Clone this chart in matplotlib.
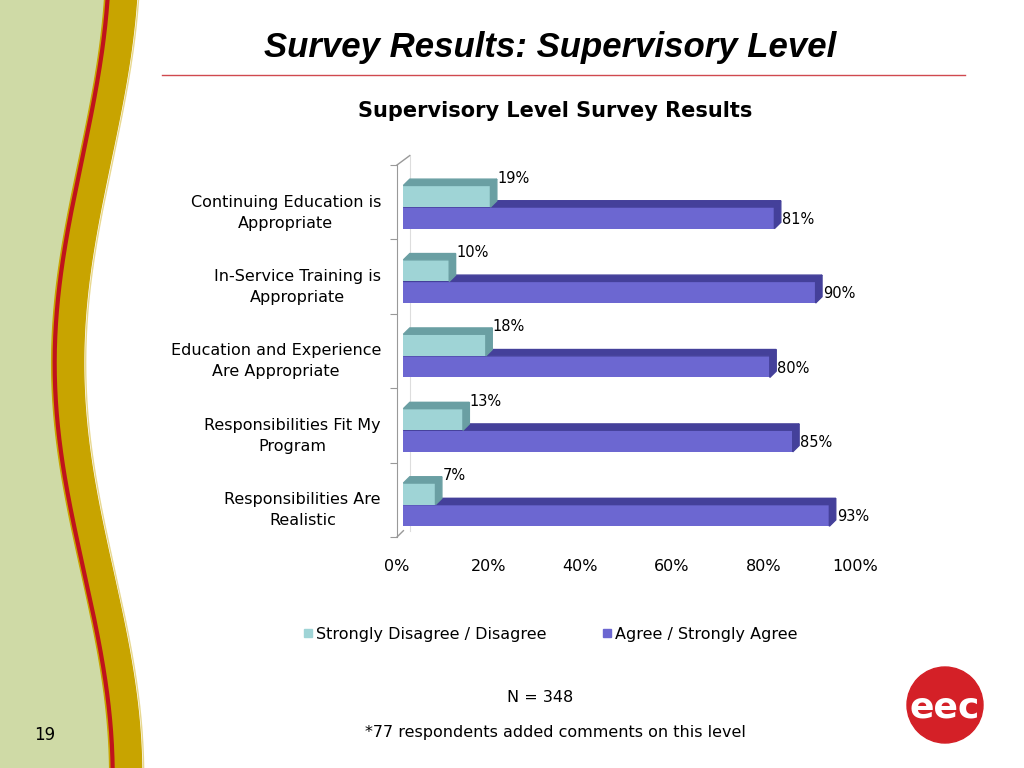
import numpy as np
import matplotlib
matplotlib.use("Agg")
import matplotlib.pyplot as plt
from matplotlib.patches import Polygon

categories = ["Continuing Education is\nAppropriate", "In-Service Training is\nAppropriate",
              "Education and Experience\nAre Appropriate", "Responsibilities Fit My\nProgram",
              "Responsibilities Are\nRealistic"]
disagree = [19, 10, 18, 13, 7]
agree = [81, 90, 80, 85, 93]
xticks = [0, 20, 40, 60, 80, 100]
series_names = ["Strongly Disagree / Disagree", "Agree / Strongly Agree"]

W, H = 1024, 768
fig = plt.figure(figsize=(W/100, H/100), dpi=100)
fig.patch.set_facecolor("white")

deco = fig.add_axes([0, 0, 1, 1])
deco.set_xlim(0, W); deco.set_ylim(H, 0); deco.axis("off")
yy = np.linspace(0, H, 300)
xw = 80 + 25*np.cos(yy/H*2*np.pi*0.95 + 0.2) - 5*np.sin(yy/H*5)
deco.fill_betweenx(yy, 0, xw, color="#cfdaa6")
deco.fill_betweenx(yy, xw, xw+32, color="#c8a400")
deco.plot(xw+3, yy, color="#c0121c", lw=3)
deco.plot(xw+34, yy, color="#e8d890", lw=1)
deco.plot([162, 965], [75, 75], color="#d0494f", lw=1)
deco.text(550, 48, "Survey Results: Supervisory Level", fontsize=25, fontweight="bold",
          fontstyle="italic", family="Liberation Sans", ha="center", va="center")
deco.text(555, 111, "Supervisory Level Survey Results", fontsize=15, fontweight="bold",
          ha="center", va="center", family="DejaVu Sans")
deco.text(540, 698, "N = 348", fontsize=11.5, ha="center", va="center")
deco.text(555, 733, "*77 respondents added comments on this level", fontsize=11.5, ha="center", va="center")
deco.text(45, 735, "19", fontsize=12, ha="center", va="center")
deco.add_patch(plt.Circle((945, 705), 38, color="#d42027"))
deco.text(945, 708, "eec", fontsize=26, fontweight="bold", color="white", ha="center", va="center")

ax = fig.add_axes([397/W, 1-537/H, 458/W, 372/H])
ax.set_xlim(0, 100); ax.set_ylim(-0.5, 4.5)
n = len(categories)
pos = np.arange(n)[::-1]
h = 0.29
dx, dy = 1.4, 0.085
x0 = dx
cols = [("#9fd4d6", "#6a9fa3"), ("#6c67d1", "#44409a")]
for vals, off, (fc, dc), z in [(agree, -0.21, cols[1], 3), (disagree, 0.08, cols[0], 4)]:
    for p, v in zip(pos, vals):
        yc = p + off
        ax.barh(yc, v, left=x0, height=h, color=fc, zorder=z)
        top = yc + h/2; bot = yc - h/2
        xe = x0 + v
        ax.add_patch(Polygon([(x0, top), (x0+dx, top+dy), (xe+dx, top+dy), (xe, top)],
                             closed=True, color=dc, zorder=z, clip_on=False))
        ax.add_patch(Polygon([(xe, top), (xe+dx, top+dy), (xe+dx, bot+dy), (xe, bot)],
                             closed=True, color=dc, zorder=z, clip_on=False))
for p, v in zip(pos, disagree):
    ax.text(x0+v+1.5, p+0.08+h/2+0.1, f"{v}%", fontsize=10.5, va="center", ha="left")
for p, v in zip(pos, agree):
    ax.text(x0+v+1.6, p-0.21-0.02, f"{v}%", fontsize=10.5, va="center", ha="left")

for s in ["top", "right", "bottom"]:
    ax.spines[s].set_visible(False)
ax.spines["left"].set_color("#999999")
ax.set_xticks(xticks)
ax.set_xticklabels([f"{t}%" for t in xticks], fontsize=11.5)
ax.tick_params(axis="x", length=0, pad=16)
ax.set_yticks(np.arange(-0.5, 4.6, 1.0))
ax.set_yticklabels([])
ax.tick_params(axis="y", length=5, color="#999999")
ax.plot([0, dx*2], [4.5, 4.5+dy*1.5], color="#999999", lw=1, clip_on=False)
ax.plot([0, dx], [-0.5, -0.5+dy], color="#999999", lw=1, clip_on=False)
ax.plot([dx*2, dx*2], [-0.5+dy, 4.5+dy*1.5], color="#dddddd", lw=0.8, clip_on=False)
for p, c in zip(pos, categories):
    ax.text(-3.5, p-0.14, c, fontsize=11.5, ha="right", va="center", linespacing=1.5,
            multialignment="center")

deco.add_patch(plt.Rectangle((304, 629), 8, 8, color=cols[0][0]))
deco.text(316, 634, series_names[0], fontsize=11.5, va="center")
deco.add_patch(plt.Rectangle((603, 629), 8, 8, color=cols[1][0]))
deco.text(615, 634, series_names[1], fontsize=11.5, va="center")

fig.savefig("out.png", dpi=100)
